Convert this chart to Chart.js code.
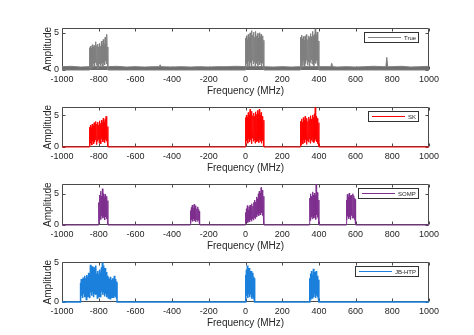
<!DOCTYPE html>
<html>
<head>
<meta charset="utf-8">
<script src="https://cdn.jsdelivr.net/npm/chart.js@4"></script>
<style>
  body { margin: 0; background: #fff; width: 474px; height: 335px; overflow: hidden; position: relative; }
  .pane { position: absolute; left: 0; width: 474px; }
</style>
</head>
<body>
<div class="pane" style="top:20px;height:78px"><canvas id="trueChart"></canvas></div>
<div class="pane" style="top:99px;height:76px"><canvas id="skChart"></canvas></div>
<div class="pane" style="top:176px;height:77px"><canvas id="sompChart"></canvas></div>
<div class="pane" style="top:254px;height:76px"><canvas id="jbChart"></canvas></div>
<script>
// axis ticks
const xTicks = [-1000, -800, -600, -400, -200, 0, 200, 400, 600, 800, 1000];
const yTicks = [0, 5];

// True spectrum: noise floor
const noiseFreq = [-1000, -950, -900, -850, -800, -750, -700, -650, -600, -550, -500, -470, -465, -460,
  -400, -350, -300, -250, -200, -150, -100, -50, 0, 50, 100, 150, 200, 250, 300, 350, 400, 450,
  465, 470, 475, 500, 550, 600, 650, 700, 750, 765, 770, 775, 800, 850, 900, 950, 1000];
const noiseAmp = [0.45, 0.5, 0.4, 0.45, 0.5, 0.45, 0.5, 0.4, 0.45, 0.4, 0.45, 0.45, 0.7, 0.45,
  0.4, 0.45, 0.4, 0.45, 0.4, 0.45, 0.45, 0.5, 0.45, 0.5, 0.45, 0.4, 0.45, 0.4, 0.45, 0.5, 0.45, 0.45,
  0.45, 0.9, 0.45, 0.4, 0.45, 0.4, 0.45, 0.5, 0.45, 0.45, 1.7, 0.45, 0.45, 0.5, 0.4, 0.45, 0.5];

// True bands
const trueRanges = [[-850, -750], [0, 100], [300, 400]];
const trueB1 = [3.0,0.4, 3.2,0.2, 2.9,0.6, 3.4,0.3, 3.1,0.9, 3.3,0.5, 3.0,1.0, 3.8,0.7, 3.3,0.1, 3.5,0.3, 3.1,0.8, 3.6,1.1, 3.2,0.6, 3.9,0.9, 3.4,0.4, 4.1,1.0, 3.5,0.7, 4.4,1.2, 3.6,0.8, 4.8,0.9, 3.1];
const trueB2 = [4.3,0.3, 4.6,0.9, 4.1,0.5, 4.8,1.2, 4.4,0.6, 5.0,1.0, 4.5,0.4, 5.3,1.3, 4.7,0.8, 5.1,1.1, 4.4,0.5, 5.2,1.4, 4.6,0.9, 4.9,0.6, 4.3,1.2, 5.0,0.7, 4.5,1.0, 4.8,0.5, 4.2,0.9, 4.6,0.3, 4.0];
const trueB3 = [4.4,0.3, 4.7,1.0, 4.2,0.6, 4.5,1.2, 4.0,0.5, 4.6,0.9, 4.3,1.3, 4.8,0.7, 4.1,1.1, 4.6,0.4, 4.4,1.0, 4.9,1.4, 4.5,0.8, 5.2,1.2, 4.6,0.6, 4.8,1.0, 5.5,0.9, 4.7,1.3, 5.1,0.6, 4.3,0.4, 3.9];

// SK bands
const skRanges = [[-850, -750], [0, 100], [300, 400]];
const skB1 = [3.1,0.2, 3.4,0.6, 3.0,0.3, 3.6,1.0, 3.3,0.5, 3.8,0.8, 3.5,1.1, 4.0,0.4, 3.6,0.9, 3.9,1.2, 3.4,0.6, 4.1,1.0, 3.7,0.5, 4.2,1.3, 3.8,0.8, 4.5,1.1, 3.9,0.7, 4.3,1.2, 4.8,0.9, 3.6,0.6, 3.2];
const skB2 = [4.6,0.4, 5.0,1.0, 4.7,0.6, 5.4,1.3, 5.0,0.8, 5.9,1.2, 5.2,0.5, 5.6,1.4, 4.9,0.9, 5.3,1.1, 4.8,0.6, 5.5,1.3, 5.1,0.8, 5.7,1.0, 5.2,0.7, 5.9,1.2, 5.0,0.9, 5.4,0.6, 4.8,1.0, 4.4,0.3, 4.2];
const skB3 = [4.0,0.3, 4.4,0.9, 3.9,0.5, 4.6,1.1, 4.2,0.7, 4.8,1.2, 4.1,0.4, 4.5,1.0, 4.0,0.8, 4.7,1.3, 4.3,0.6, 4.9,1.1, 4.4,0.9, 5.0,1.4, 4.6,0.7, 5.2,1.0, 6.2,1.3, 4.8,0.8, 4.5,0.5, 4.0,0.3, 3.8];

// SOMP bands
const sompRanges = [[-800, -750], [-300, -250], [0, 100], [350, 400], [550, 600]];
const sompB1 = [3.6,0.6, 4.8,1.2, 5.4,0.9, 4.6,1.5, 5.8,1.1, 5.0,1.4, 4.5,0.8, 4.9,1.3, 4.3,1.0, 4.6,0.7, 3.9];
const sompB2 = [2.3,0.4, 2.8,0.8, 3.2,0.6, 2.7,1.0, 3.3,0.7, 2.9,0.5, 3.1,0.9, 2.6,0.6, 2.9,0.8, 2.5,0.4, 2.2];
const sompB3 = [2.0,0.3, 2.6,0.5, 3.1,0.4, 2.4,0.7, 2.9,0.5, 3.2,0.9, 2.7,0.6, 3.4,1.0, 3.0,0.8, 3.6,1.2, 4.0,1.0, 3.7,1.4, 4.5,1.3, 4.2,1.7, 5.0,1.5, 5.4,1.9, 5.1,1.6, 6.0,2.0, 5.6,1.5, 5.2,1.2, 4.6];
const sompB4 = [4.3,0.7, 5.0,1.3, 4.6,1.0, 5.3,1.5, 4.8,1.1, 5.1,1.4, 4.7,0.9, 6.5,1.6, 5.2,1.2, 4.5,0.8, 4.0];
const sompB5 = [4.0,0.8, 4.9,1.4, 4.5,1.0, 5.1,1.3, 4.6,0.9, 4.8,1.5, 4.4,1.1, 5.0,1.2, 4.7,0.9, 4.3,0.7, 4.1];

// JB-HTP bands
const jbRanges = [[-900, -700], [0, 50], [350, 400]];
const jbB1 = [2.4,0.4, 2.9,0.8, 2.6,0.5, 3.1,1.0, 2.8,0.6, 3.3,0.9, 3.0,0.3, 3.4,1.1, 3.2,0.7, 3.7,1.0, 3.5,0.5, 4.7,1.2, 4.0,0.8, 4.5,1.3, 3.8,0.6, 4.4,1.0, 3.9,0.9, 4.6,1.2, 3.6,0.5, 3.9,0.9, 3.5,0.7, 4.1,1.1, 3.7,0.6, 4.4,1.3, 5.0,0.9, 4.6,1.2, 4.2,0.7, 4.3,1.0, 3.8,0.6, 3.5,1.1, 3.3,0.5, 3.1,0.9, 2.9,0.4, 3.2,0.8, 2.8,0.6, 3.0,1.0, 2.7,0.5, 3.3,0.8, 2.9,0.6, 2.6,0.4, 2.5];
const jbB2 = [3.4,0.3, 4.1,0.8, 4.6,0.5, 3.8,1.0, 4.3,0.6, 3.6,0.9, 3.9,0.4, 3.3,0.8, 3.7,0.5, 3.2,0.3, 3.0];
const jbB3 = [3.0,0.3, 3.6,0.7, 3.9,0.5, 3.4,0.9, 4.2,0.6, 3.8,1.0, 3.5,0.5, 3.9,0.8, 3.3,0.6, 3.1,0.4, 2.8];

const colors = {
    gray: '#7f7f7f',
    red: '#ff0000',
    purple: '#7e2f8e',
    blue: '#1a80dc',
    axis: '#262626'
};

Chart.defaults.font.family = '"Liberation Sans", Arial, sans-serif';
Chart.defaults.color = colors.axis;

// spectrum: zero everywhere except the listed bands
function buildSeries(ranges, bands) {
    const pts = [{ x: -1000, y: 0 }];
    ranges.forEach((r, k) => {
        const vals = bands[k];
        const step = (r[1] - r[0]) / (vals.length - 1);
        pts.push({ x: r[0], y: 0 });
        vals.forEach((v, i) => pts.push({ x: r[0] + i * step, y: v }));
        pts.push({ x: r[1], y: 0 });
    });
    pts.push({ x: 1000, y: 0 });
    return pts;
}

const framePlugin = {
    id: 'frame',
    beforeDatasetsDraw(chart) {
        const { ctx, chartArea: a, scales: { x, y } } = chart;
        const L = Math.round(a.left) + 0.5, R = Math.round(a.right) - 0.5;
        const T = Math.round(a.top) + 0.5, B = Math.round(a.bottom) - 0.5;
        ctx.save();
        ctx.strokeStyle = '#4a4a4a';
        ctx.lineWidth = 1;
        ctx.beginPath();
        ctx.rect(L, T, R - L, B - T);
        x.ticks.forEach(t => {
            const px = Math.round(x.getPixelForValue(t.value)) + 0.5;
            ctx.moveTo(px, T); ctx.lineTo(px, T + 3);
            ctx.moveTo(px, B); ctx.lineTo(px, B - 3);
        });
        y.ticks.forEach(t => {
            const py = Math.round(y.getPixelForValue(t.value)) + 0.5;
            ctx.moveTo(L, py); ctx.lineTo(L + 3, py);
            ctx.moveTo(R, py); ctx.lineTo(R - 3, py);
        });
        ctx.stroke();
        ctx.restore();
    }
};

const legendPlugin = {
    id: 'boxLegend',
    afterDraw(chart) {
        const ds = chart.data.datasets[0];
        const { ctx, chartArea: a } = chart;
        ctx.save();
        ctx.font = '6px "Liberation Sans", Arial, sans-serif';
        const tw = ctx.measureText(ds.label).width;
        const w = Math.round(tw + 43), h = 11;
        const right = Math.round(a.right) - 10;
        const left = right - w, top = Math.round(a.top) + 4;
        ctx.fillStyle = '#fff';
        ctx.fillRect(left, top, w, h);
        ctx.strokeStyle = '#333';
        ctx.lineWidth = 1;
        ctx.strokeRect(left + 0.5, top + 0.5, w - 1, h - 1);
        ctx.strokeStyle = ds.borderColor;
        ctx.beginPath();
        ctx.moveTo(left + 4, top + 5.5);
        ctx.lineTo(left + 37, top + 5.5);
        ctx.stroke();
        ctx.fillStyle = colors.axis;
        ctx.textBaseline = 'middle';
        ctx.fillText(ds.label, left + 40, top + 6);
        ctx.restore();
    }
};

function makeChart(id, datasets, ymax) {
    return new Chart(document.getElementById(id), {
        type: 'line',
        data: { datasets: datasets },
        options: {
            responsive: true,
            maintainAspectRatio: false,
            animation: false,
            layout: { padding: { top: 6, right: 45, left: 0, bottom: 0 } },
            elements: { point: { radius: 0 }, line: { borderWidth: 1, tension: 0 } },
            plugins: { legend: { display: false }, tooltip: { enabled: false } },
            scales: {
                x: {
                    type: 'linear', min: -1000, max: 1000,
                    afterBuildTicks: s => { s.ticks = xTicks.map(v => ({ value: v })); },
                    afterFit: s => { s.height = 28; },
                    grid: { display: false, drawTicks: false },
                    border: { display: false },
                    ticks: { font: { size: 9 }, padding: 4, maxRotation: 0, autoSkip: false, callback: v => String(v) },
                    title: { display: true, text: 'Frequency (MHz)', font: { size: 10 }, padding: { top: 0, bottom: 1 } }
                },
                y: {
                    min: 0, max: ymax,
                    afterBuildTicks: s => { s.ticks = yTicks.map(v => ({ value: v })); },
                    afterFit: s => { s.width = 62; },
                    grid: { display: false, drawTicks: false },
                    border: { display: false },
                    ticks: { font: { size: 9 }, padding: 3, autoSkip: false, callback: v => String(v) },
                    title: { display: true, text: 'Amplitude', font: { size: 10 }, padding: { top: 42, bottom: 0 } }
                }
            }
        },
        plugins: [framePlugin, legendPlugin]
    });
}

// 1. True
makeChart('trueChart', [
    { label: 'True', data: buildSeries(trueRanges, [trueB1, trueB2, trueB3]), borderColor: colors.gray, clip: 2 },
    { label: 'noise', data: noiseFreq.map((f, i) => ({ x: f, y: noiseAmp[i] })), borderColor: colors.gray,
      backgroundColor: '#6e6e6e', fill: 'origin', clip: 2 }
], 5.6);

// 2. SK
makeChart('skChart', [
    { label: 'SK', data: buildSeries(skRanges, [skB1, skB2, skB3]), borderColor: colors.red, clip: 2 }
], 6.2);

// 3. SOMP
makeChart('sompChart', [
    { label: 'SOMP', data: buildSeries(sompRanges, [sompB1, sompB2, sompB3, sompB4, sompB5]), borderColor: colors.purple, clip: 2 }
], 6.5);

// 4. JB-HTP
makeChart('jbChart', [
    { label: 'JB-HTP', data: buildSeries(jbRanges, [jbB1, jbB2, jbB3]), borderColor: colors.blue, borderWidth: 1.5, clip: 2 }
], 5);
</script>
</body>
</html>
